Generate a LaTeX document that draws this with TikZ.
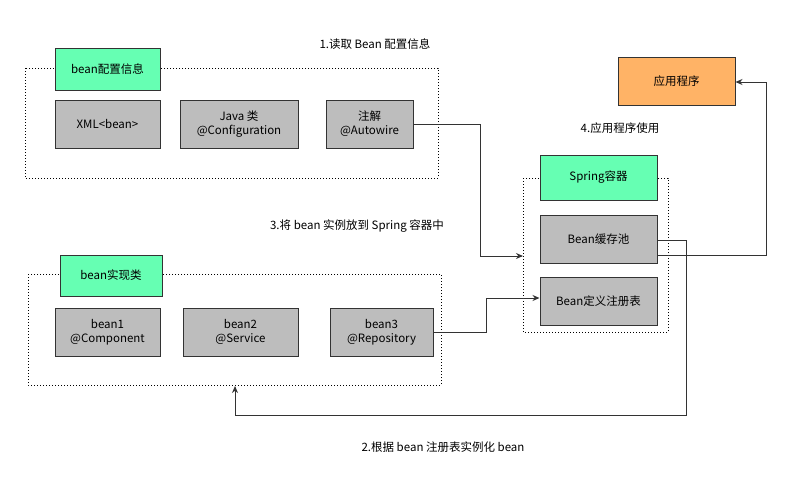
\documentclass[tikz,border=0pt]{standalone}
\usepackage{fontspec}
\setmainfont{Noto Sans CJK SC}
\usetikzlibrary{arrows.meta}
\definecolor{grn}{HTML}{66FFB3}
\definecolor{gry}{HTML}{BDBDBD}
\definecolor{org}{HTML}{FFB366}
\definecolor{ln}{HTML}{333333}
\begin{document}
\begin{tikzpicture}[x=1pt,y=-1pt,font=\fontsize{11.5}{14}\selectfont,
  box/.style={draw=ln,line width=1pt,fill=gry,align=center,inner sep=0pt},
  gbox/.style={box,fill=grn},
  dbox/.style={draw=black,line width=1pt,dotted},
  arr/.style={draw=ln,line width=1pt,-{Stealth[length=7pt,width=6pt]}},
  lab/.style={text=black}]
\useasboundingbox (0,0) rectangle (790,488);
\draw[dbox] (25,68) rectangle (438,178);
\draw[dbox] (523,178) rectangle (668,332);
\draw[dbox] (28,274) rectangle (441,385);
\node[gbox,minimum width=105,minimum height=42] (cfg) at (107.5,69) {bean配置信息};
\node[box,minimum width=105,minimum height=48] (xml) at (107.5,124) {XML<bean>};
\node[box,minimum width=118,minimum height=48] (java) at (239,124) {Java 类\\@Configuration};
\node[box,minimum width=87,minimum height=48] (ann) at (369.5,124) {注解\\@Autowire};
\node[box,fill=org,minimum width=117,minimum height=48] (app) at (676.5,81) {应用程序};
\node[gbox,minimum width=117,minimum height=45] (sc) at (598.5,177.5) {Spring容器};
\node[box,minimum width=117,minimum height=48] (pool) at (598.5,239) {Bean缓存池};
\node[box,minimum width=117,minimum height=48] (reg) at (598.5,301) {Bean定义注册表};
\node[gbox,minimum width=102,minimum height=41] (impl) at (111,275.5) {bean实现类};
\node[box,minimum width=105,minimum height=48] (b1) at (107.5,332) {bean1\\@Component};
\node[box,minimum width=115,minimum height=48] (b2) at (240.5,332) {bean2\\@Service};
\node[box,minimum width=103,minimum height=48] (b3) at (381.5,332) {bean3\\@Repository};
\node[lab] (t1) at (375,44) {1.读取 Bean 配置信息};
\node[lab] (t4) at (620,128) {4.应用程序使用};
\node[lab] (t3) at (357,226) {3.将 bean 实例放到 Spring 容器中};
\node[lab] (t2) at (443,447) {2.根据 bean 注册表实例化 bean};
\coordinate (sin) at (523,256);
\coordinate (d2) at (235,386);
\draw[arr] (ann.east) -- (480,124) -- (480,256) -- (sin);
\draw[arr] (b3.east) -- (486,332) -- (486,298) -- (reg.west |- 0,298);
\draw[arr] (pool.east |- 0,255) -- (766,255) -- (766,82) -- (app.east |- 0,82);
\draw[arr] (pool.east |- 0,240) -- (686,240) -- (686,415) -- (235,415) -- (d2);
\end{tikzpicture}
\end{document}
